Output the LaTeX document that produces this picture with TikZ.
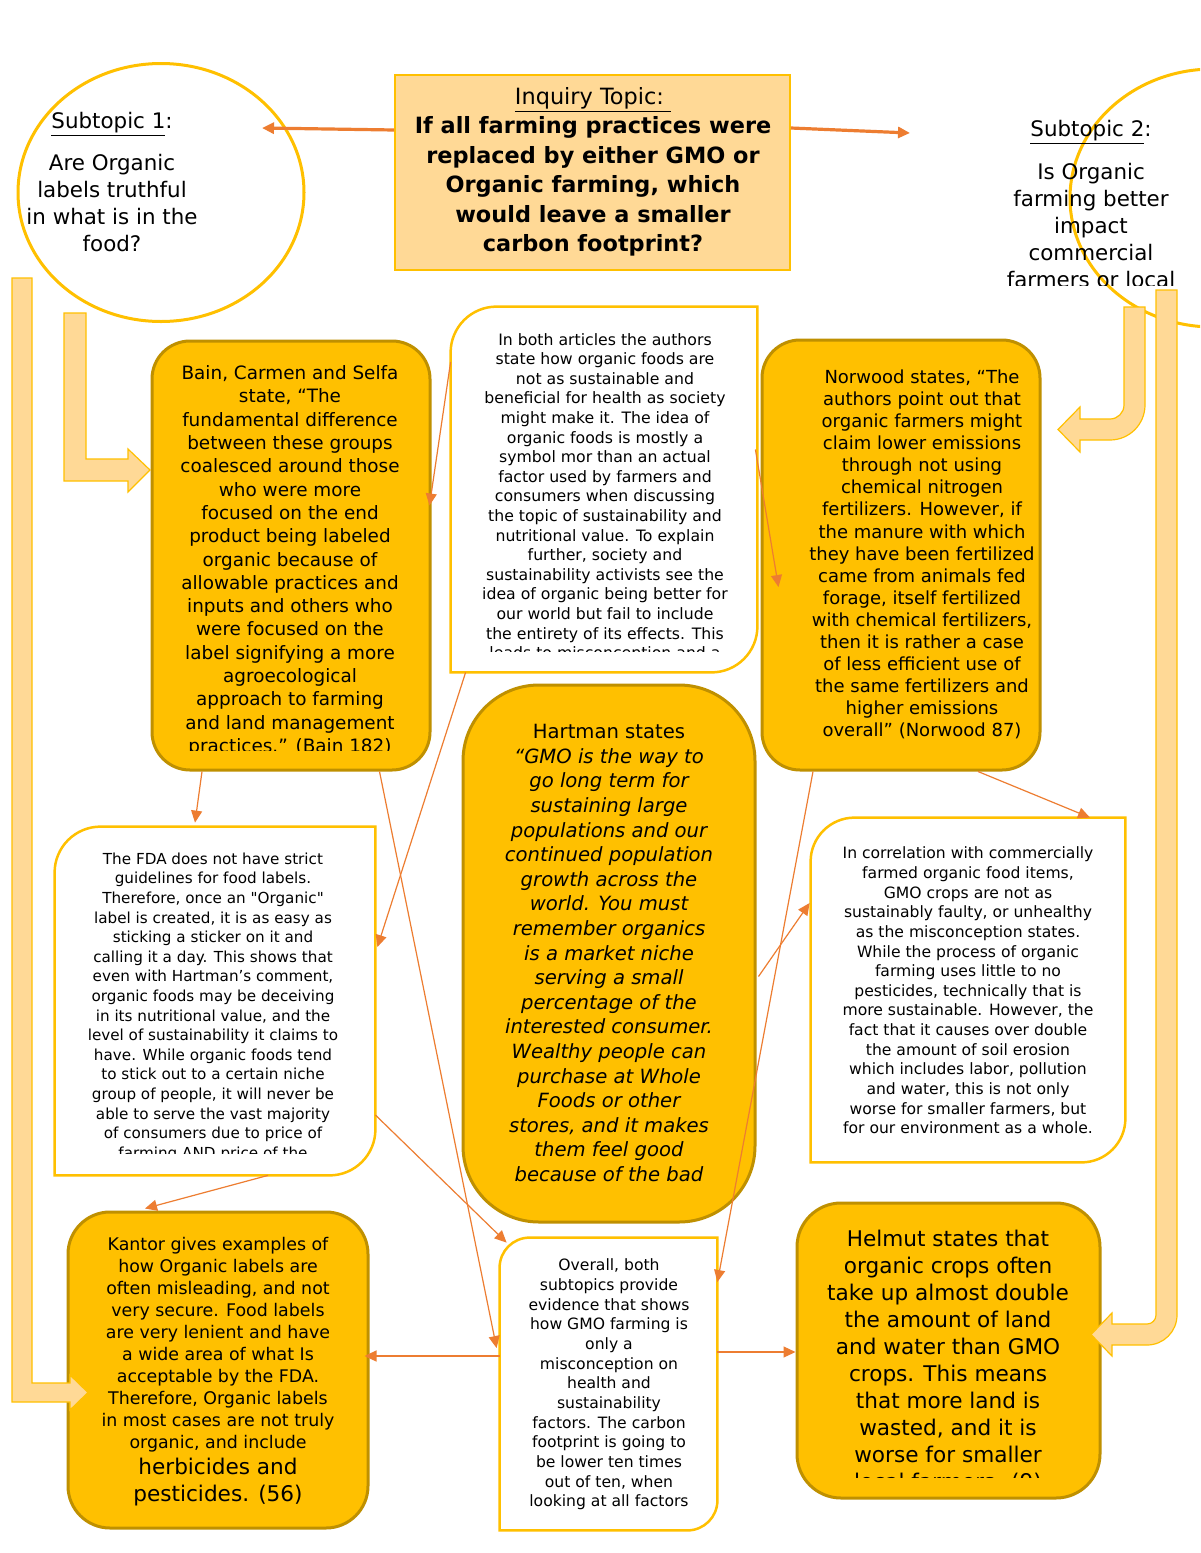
\documentclass[tikz,border=0pt]{standalone}
\usepackage{fontspec}
\setmainfont{DejaVu Sans}
\usetikzlibrary{shapes.geometric,arrows.meta}
\definecolor{gold}{HTML}{FFC000}
\definecolor{darkgold}{HTML}{BF9000}
\definecolor{paleorange}{HTML}{FFD996}
\definecolor{linkorange}{HTML}{ED7D31}
\newcommand{\straightquote}{\XeTeXglyph\XeTeXcharglyph"0022\relax}

\begin{document}
\begin{tikzpicture}[x=0.5pt, y=0.5pt, >={Triangle[length=6pt,width=5.5pt]}]
  \tikzstyle{goldbox} = [draw=darkgold, fill=gold, line width=1.5pt, inner sep=0pt]
  \tikzstyle{whitebox} = [inner sep=0pt]
  \tikzstyle{diagline} = [draw=gold, line width=1.25pt]
  \tikzstyle{bubble} = [ellipse, draw=gold, line width=1.5pt, minimum width=143pt, minimum height=129pt, inner sep=0pt]
  \tikzstyle{blockarrow} = [fill=paleorange, draw=gold, line width=0.6pt]
  \tikzstyle{words} = [align=center, inner sep=0pt, text=black]
  \tikzstyle{link} = [->, draw=linkorange, line width=0.6pt]
  \tikzstyle{toplink} = [link, line width=1.6pt]

  \useasboundingbox (0,0) rectangle (1200,-1553);
  \clip (0,0) rectangle (1200,-1553);
  \fill[white] (0,0) rectangle (1200,-1553);

  % subtopics and the inquiry topic
  \node (sub1) [bubble] at (161,-192.5) {};
  \node (sub2) [bubble] at (1213,-198) {};
  \node (inquiry) [draw=gold, fill=paleorange, line width=0.8pt, minimum width=197.5pt, minimum height=97.5pt] at (592.5,-172.5) {};

  \node (sub1-txt) [words, font=\fontsize{10.7}{13.5}\selectfont] at (112,-182)
    {\underline{Subtopic 1}:\\[7.5pt] Are Organic\\ labels truthful\\ in what is in the\\ food?};
  \begin{scope}
    \clip (985,-60) rectangle (1200,-285);
    \node (sub2-txt) [words, font=\fontsize{10.7}{13.5}\selectfont] at (1091,-204)
      {\underline{Subtopic 2}:\\[8pt] Is Organic\\ farming better\\ impact\\ commercial\\ farmers or local};
  \end{scope}
  \node (inquiry-txt) [words, font=\fontsize{11.2}{14.75}\selectfont\bfseries] at (593,-172)
    {{\mdseries\underline{Inquiry Topic:\ }}\\ If all farming practices were\\ replaced by either GMO or\\
     Organic farming, which\\ would leave a smaller\\ carbon footprint?};

  % source boxes
  \node (bain) [goldbox, rounded corners=19pt, minimum width=139pt, minimum height=214.5pt] at (291,-555.5) {};
  \node (norwood) [goldbox, rounded corners=19pt, minimum width=139pt, minimum height=215pt] at (901,-555) {};
  \node (hartman) [goldbox, rounded corners=38pt, minimum width=146pt, minimum height=268.5pt] at (609,-953.5) {};
  \node (kantor) [goldbox, rounded corners=21pt, minimum width=150pt, minimum height=158pt] at (218,-1370) {};
  \node (helmut) [goldbox, rounded corners=22pt, minimum width=151.5pt, minimum height=147.5pt] at (948.5,-1350.5) {};

  % analysis boxes
  \node (inboth) [whitebox, minimum width=153pt, minimum height=182.5pt] at (604,-489.5) {};
  \node (fda) [whitebox, minimum width=160pt, minimum height=174pt] at (215,-1001) {};
  \node (correl) [whitebox, minimum width=157pt, minimum height=172pt] at (968,-990) {};
  \node (overall) [whitebox, minimum width=108.5pt, minimum height=146pt] at (608.5,-1384) {};
  \foreach \card/\r in {inboth/23pt, fda/23pt, correl/22pt, overall/15pt}
    \draw[diagline] (\card.south west) -- ([yshift=-\r]\card.north west)
      arc[start angle=180, end angle=90, radius=\r] -- (\card.north east)
      -- ([yshift=\r]\card.south east) arc[start angle=0, end angle=-90, radius=\r] -- cycle;

  \begin{scope}
    \clip (150,-330) rectangle (432,-750);
    \node (bain-txt) [words, font=\fontsize{9.2}{11.65}\selectfont] at (290,-561)
      {Bain, Carmen and Selfa\\ state, “The\\ fundamental difference\\ between these groups\\
       coalesced around those\\ who were more\\ focused on the end\\ product being labeled\\
       organic because of\\ allowable practices and\\ inputs and others who\\ were focused on the\\
       label signifying a more\\ agroecological\\ approach to farming\\ and land management\\
       practices.” (Bain 182)};
  \end{scope}
  \begin{scope}
    \clip (452,-300) rectangle (757,-651);
    \node (inboth-txt) [words, font=\fontsize{7.85}{9.8}\selectfont] at (605,-497.5)
      {In both articles the authors\\ state how organic foods are\\ not as sustainable and\\
       beneficial for health as society\\ might make it. The idea of\\ organic foods is mostly a\\
       symbol mor than an actual\\ factor used by farmers and\\ consumers when discussing\\
       the topic of sustainability and\\ nutritional value. To explain\\ further, society and\\
       sustainability activists see the\\ idea of organic being better for\\ our world but fail to include\\
       the entirety of its effects. This\\ leads to misconception and a};
  \end{scope}
  \node (norwood-txt) [words, font=\fontsize{9}{11.05}\selectfont] at (922,-554.5)
    {Norwood states, “The\\ authors point out that\\ organic farmers might\\ claim lower emissions\\
     through not using\\ chemical nitrogen\\ fertilizers. However, if\\ the manure with which\\
     they have been fertilized\\ came from animals fed\\ forage, itself fertilized\\ with chemical fertilizers,\\
     then it is rather a case\\ of less efficient use of\\ the same fertilizers and\\ higher emissions\\
     overall” (Norwood 87)};
  \begin{scope}
    \clip (56,-820) rectangle (374,-1153);
    \node (fda-txt) [words, font=\fontsize{7.6}{9.8}\selectfont] at (213,-1007)
      {The FDA does not have strict\\ guidelines for food labels.\\
       Therefore, once an \straightquote Organic\straightquote\\
       label is created, it is as easy as\\ sticking a sticker on it and\\ calling it a day. This shows that\\
       even with Hartman's comment,\\ organic foods may be deceiving\\ in its nutritional value, and the\\
       level of sustainability it claims to\\ have. While organic foods tend\\ to stick out to a certain niche\\
       group of people, it will never be\\ able to serve the vast majority\\ of consumers due to price of\\
       farming AND price of the};
  \end{scope}
  \node (hartman-txt) [words, font=\fontsize{9.8}{12.3}\selectfont\itshape] at (609,-953)
    {{\upshape Hartman states}\\ “GMO is the way to\\ go long term for\\ sustaining large\\ populations and our\\
     continued population\\ growth across the\\ world. You must\\ remember organics\\ is a market niche\\
     serving a small\\ percentage of the\\ interested consumer.\\ Wealthy people can\\ purchase at Whole\\
     Foods or other\\ stores, and it makes\\ them feel good\\ because of the bad};
  \node (correl-txt) [words, font=\fontsize{7.8}{9.82}\selectfont] at (968,-990.5)
    {In correlation with commercially\\ farmed organic food items,\\ GMO crops are not as\\
     sustainably faulty, or unhealthy\\ as the misconception states.\\ While the process of organic\\
     farming uses little to no\\ pesticides, technically that is\\ more sustainable. However, the\\
     fact that it causes over double\\ the amount of soil erosion\\ which includes labor, pollution\\
     and water, this is not only\\ worse for smaller farmers, but\\ for our environment as a whole.};
  \node (kantor-txt) [words, font=\fontsize{8.7}{11}\selectfont] at (218,-1372)
    {Kantor gives examples of\\ how Organic labels are\\ often misleading, and not\\ very secure. Food labels\\
     are very lenient and have\\ a wide area of what Is\\ acceptable by the FDA.\\ Therefore, Organic labels\\
     in most cases are not truly\\ organic, and include\\[2pt]
     {\fontsize{10.8}{13.3}\selectfont herbicides and}\\[2.5pt]
     {\fontsize{10.8}{13.3}\selectfont pesticides. (56)}};
  \node (overall-txt) [words, font=\fontsize{7.8}{9.83}\selectfont] at (609,-1384.5)
    {Overall, both\\ subtopics provide\\ evidence that shows\\ how GMO farming is\\ only a\\
     misconception on\\ health and\\ sustainability\\ factors. The carbon\\ footprint is going to\\
     be lower ten times\\ out of ten, when\\ looking at all factors};
  \begin{scope}
    \clip (796,-1200) rectangle (1102,-1477);
    \node (helmut-txt) [words, font=\fontsize{10.8}{13.5}\selectfont] at (948,-1361.5)
      {Helmut states that\\ organic crops often\\ take up almost double\\ the amount of land\\
       and water than GMO\\ crops. This means\\ that more land is\\ wasted, and it is\\
       worse for smaller\\ local farmers. (9)};
  \end{scope}

  % block arrows
  \draw[blockarrow] (12,-278) -- (32,-278) -- (32,-1383) -- (70,-1383) -- (70,-1375) -- (88,-1392.5)
    -- (70,-1410) -- (70,-1402) -- (12,-1402) -- cycle;
  \draw[blockarrow] (64,-313) -- (86,-313) -- (86,-459) -- (128,-459) -- (128,-449) -- (150,-470)
    -- (128,-492) -- (128,-481) -- (64,-481) -- cycle;
  \draw[blockarrow] (1124,-307) -- (1145,-307) -- (1145,-405) arc[start angle=0, end angle=-90, radius=17.5pt]
    -- (1080,-440) -- (1080,-452) -- (1058,-429.5) -- (1080,-407) -- (1080,-419) -- (1110,-419)
    arc[start angle=-90, end angle=0, radius=7pt] -- cycle;
  \draw[blockarrow] (1156,-290) -- (1177,-290) -- (1177,-1315) arc[start angle=0, end angle=-90, radius=15pt]
    -- (1112,-1345) -- (1112,-1356) -- (1091,-1334.5) -- (1112,-1313) -- (1112,-1324) -- (1147,-1324)
    arc[start angle=-90, end angle=0, radius=4.5pt] -- cycle;

  % connectors
  \draw[toplink] ([shift={(0,42.5)}]inquiry.west) -- ([shift={(101,64.5)}]sub1.center);
  \draw[toplink] ([shift={(0,44.5)}]inquiry.east) -- ([shift={(-303,65)}]sub2.center);
  \draw[link] ([shift={(0,127.5)}]inboth.west) -- ([shift={(-2,50)}]bain.east);
  \draw[link] ([shift={(-2,40)}]inboth.east) -- ([shift={(18,-32)}]norwood.west);
  \draw[link] ([shift={(-89,0)}]bain.south) -- ([shift={(-20,4)}]fda.north);
  \draw[link] ([shift={(15,0)}]inboth.south west) -- ([shift={(2,54)}]fda.east);
  \draw[link] ([shift={(-52,0)}]bain.south east) -- ([shift={(-3,36)}]overall.west);
  \draw[link] ([shift={(0,-114)}]fda.east) -- ([shift={(7,-5)}]overall.north west);
  \draw[link] ([shift={(53,0)}]fda.south) -- ([shift={(-73,2)}]kantor.north);
  \draw[link] ([shift={(0,28)}]overall.west) -- ([shift={(-5,14)}]kantor.east);
  \draw[link] ([shift={(0,32)}]overall.east) -- ([shift={(0,-1.5)}]helmut.west);
  \draw[link] ([shift={(2,-23)}]hartman.east) -- ([shift={(-1,87)}]correl.west);
  \draw[link] ([shift={(-88,0)}]norwood.south) -- ([shift={(0,102)}]overall.east);
  \draw[link] ([shift={(77,0)}]norwood.south) -- ([shift={(122,0)}]correl.north);
\end{tikzpicture}
\end{document}
